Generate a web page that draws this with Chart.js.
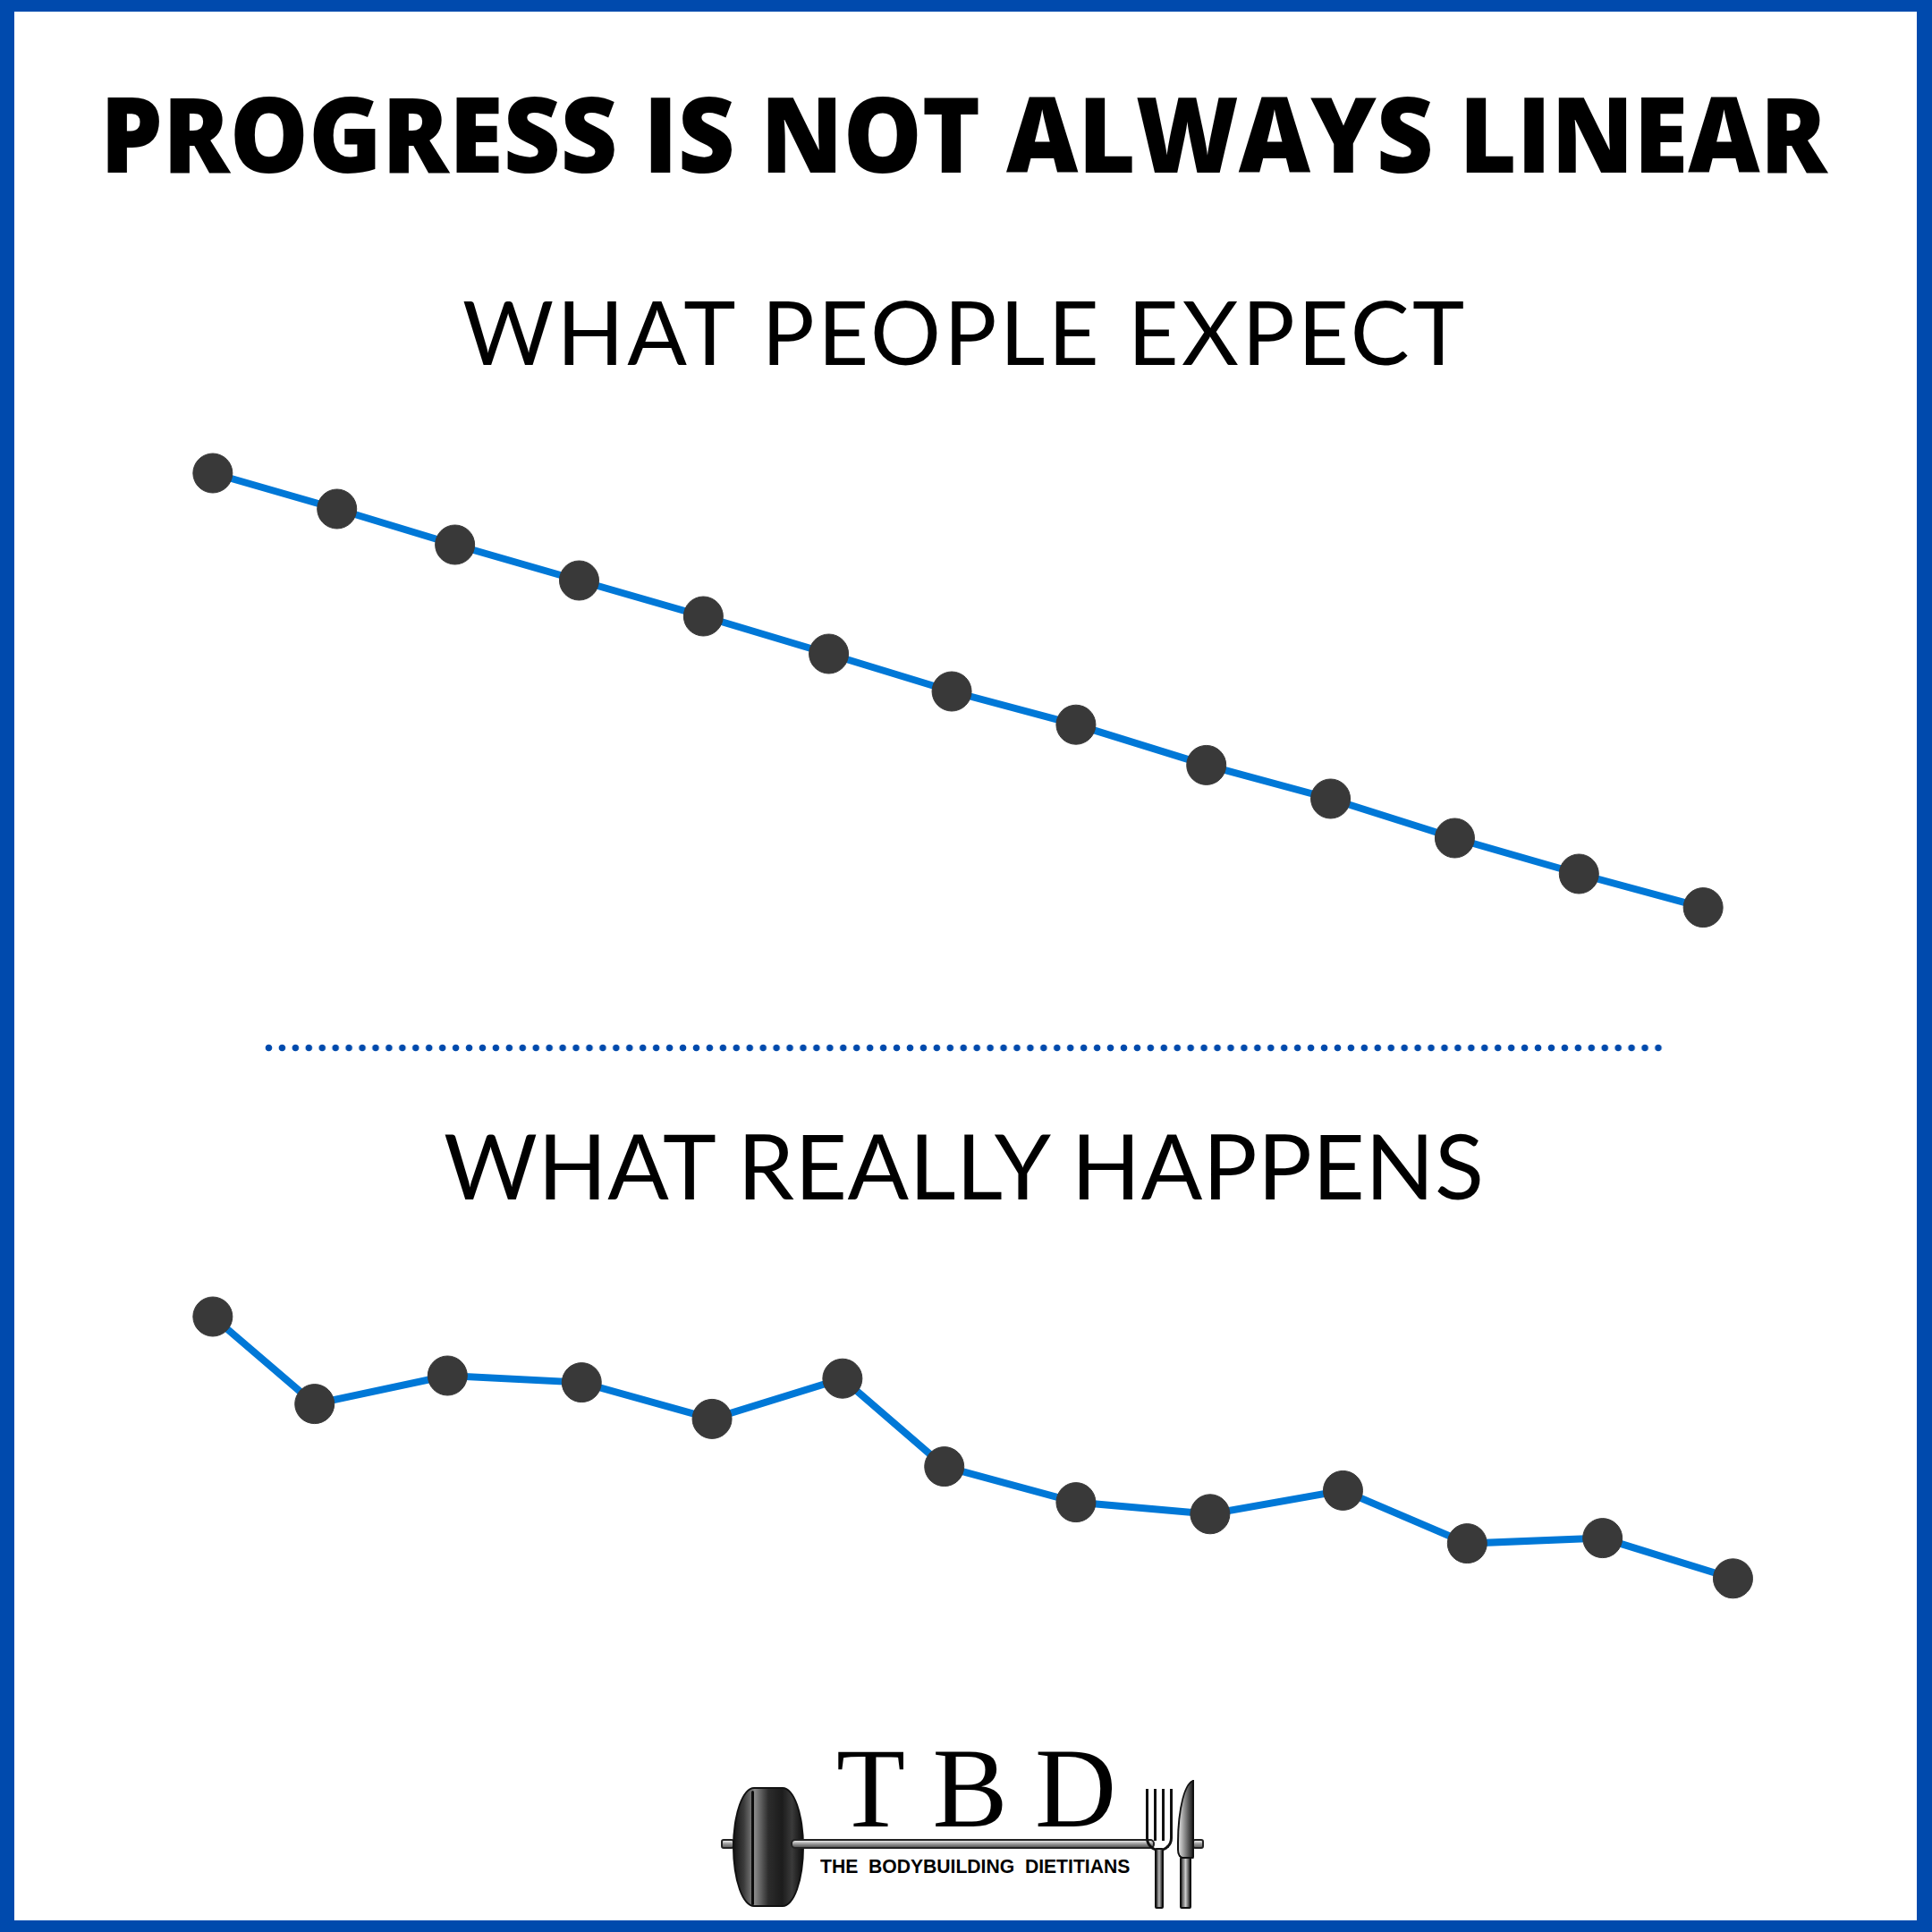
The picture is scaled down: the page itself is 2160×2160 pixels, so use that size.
<!DOCTYPE html>
<html>
<head>
<meta charset="utf-8">
<script src="https://cdn.jsdelivr.net/npm/chart.js@4.4.0/dist/chart.umd.min.js"></script>
<style>
  html, body { margin: 0; padding: 0; background: #fff; }
  #page { position: relative; width: 2160px; height: 2160px; overflow: hidden; background: #fff; }
  #frame { position: absolute; left: 0; top: 0; width: 2160px; height: 2160px; box-sizing: border-box;
           border-style: solid; border-color: #004aad; border-width: 13px 17px 13px 16px; }
  .txt { position: absolute; margin: 0; white-space: pre; color: #000; }
  canvas { position: absolute; }
  #dots { position: absolute; left: 293px; top: 1167px; width: 1570px; height: 9px;
          background: radial-gradient(circle at 50% 50%, #004aad 3.4px, rgba(0,74,173,0) 4.2px) repeat-x;
          background-size: 14.95px 9px; }
  .part { position: absolute; box-sizing: border-box; }
</style>
</head>
<body>
<div id="page">
  <div id="frame"></div>

  <div class="txt" id="title"></div>
  <div class="txt" id="sub1"></div>
  <div class="txt" id="sub2"></div>

  <canvas id="expected" width="1944" height="640" style="left:99px; top:449px;"></canvas>
  <div id="dots"></div>
  <canvas id="really" width="1944" height="480" style="left:99px; top:1392px;"></canvas>

  <!-- logo -->
  <div class="part" style="left:806px; top:2056px; width:15px; height:11px; border:2px solid #222; border-radius:3px; background:linear-gradient(#eee,#999,#666);"></div>
  <div class="part" style="left:819px; top:1998px; width:80px; height:134px; border:2px solid #111; border-radius:24px / 67px; background:linear-gradient(90deg,#161616 0%,#3c3c3c 14%,#8a8a8a 30%,#2c2c2c 50%,#1c1c1c 70%,#3a3a3a 85%,#111 100%);"></div>
  <div class="part" style="left:840px; top:2002px; width:3px; height:128px; background:#0c0c0c; border-radius:2px;"></div>
  <div class="part" style="left:884px; top:2056px; width:407px; height:11px; border:2px solid #222; border-radius:5px; background:linear-gradient(#e8e8e8,#9a9a9a 50%,#5a5a5a);"></div>
  <div class="part" style="left:1333px; top:2056px; width:13px; height:11px; border:2px solid #222; border-radius:3px; background:linear-gradient(#eee,#999,#666);"></div>
  <!-- fork -->
  <div class="part" style="left:1281px; top:2000px; width:30px; height:70px; border:3px solid #111; border-top:none; border-radius:0 0 15px 15px;"></div>
  <div class="part" style="left:1290px; top:2000px; width:3px; height:58px; background:#111;"></div>
  <div class="part" style="left:1299px; top:2000px; width:3px; height:58px; background:#111;"></div>
  <div class="part" style="left:1291px; top:2066px; width:10px; height:68px; border:2px solid #111; border-radius:2px; background:linear-gradient(90deg,#333,#bbb,#333);"></div>
  <!-- knife -->
  <div class="part" style="left:1316px; top:1990px; width:19px; height:88px; border:2px solid #111; border-radius:19px 0 2px 6px / 70px 0 2px 10px; background:linear-gradient(90deg,#ddd,#777 55%,#222);"></div>
  <div class="part" style="left:1319px; top:2076px; width:13px; height:58px; border:2px solid #111; border-radius:2px; background:linear-gradient(90deg,#444,#ccc,#333);"></div>

  <div class="txt" id="tbd"></div>
  <div class="txt" id="tbdSub"></div>
</div>

<script>
// data (x = week, y = body weight)
const weeksExpected  = [0, 1, 1.95, 2.95, 3.95, 4.96, 5.95, 6.95, 8.0, 9.0, 10.0, 11.0, 12.0];
const weightExpected = [85.0, 84.0, 83.0, 82.0, 81.0, 79.95, 78.9, 77.97, 76.84, 75.9, 74.8, 73.8, 72.86];

const weeksReal  = [0, 0.82, 1.89, 2.97, 4.02, 5.07, 5.89, 6.95, 8.03, 9.1, 10.1, 11.19, 12.24];
const weightReal = [85.0, 82.56, 83.35, 83.16, 82.14, 83.27, 80.81, 79.81, 79.48, 80.14, 78.66, 78.81, 77.68];

const lineBlue = '#0078d7';
const dotGrey = '#393939';

function toPoints(xs, ys) {
  let pts = [];
  for (let i = 0; i < xs.length; i++) {
    pts.push({x: xs[i], y: ys[i]});
  }
  return pts;
}

function makeChart(id, xs, ys, yMin, yMax) {
  return new Chart(document.getElementById(id), {
    type: 'line',
    data: {
      datasets: [{
        data: toPoints(xs, ys),
        borderColor: lineBlue,
        borderWidth: 8,
        tension: 0,
        pointRadius: 22,
        pointBorderWidth: 1,
        pointBackgroundColor: dotGrey,
        pointBorderColor: dotGrey,
        fill: false,
        clip: false
      }]
    },
    options: {
      responsive: false,
      animation: false,
      layout: { padding: 0, autoPadding: false },
      plugins: { legend: { display: false }, tooltip: { enabled: false }, title: { display: false } },
      scales: {
        x: { type: 'linear', min: -1, max: 13, display: false },
        y: { type: 'linear', min: yMin, max: yMax, display: false }
      }
    }
  });
}

makeChart('expected', weeksExpected, weightExpected, 71, 87);
makeChart('really', weeksReal, weightReal, 75, 87);

// text placement: size from cap height, then fit the width
const ctx = document.createElement('canvas').getContext('2d');

function placeText(id, o) {
  const el = document.getElementById(id);
  el.textContent = o.text;
  ctx.font = o.weight + ' 100px ' + o.family;
  const ratio = ctx.measureText('H').actualBoundingBoxAscent / 100;
  const size = (o.baseline - o.capTop) / ratio;
  ctx.font = o.weight + ' ' + size + 'px ' + o.family;
  const m = ctx.measureText(o.text);
  const A = m.fontBoundingBoxAscent, D = m.fontBoundingBoxDescent;
  el.style.fontFamily = o.family;
  el.style.fontWeight = o.weight;
  el.style.fontSize = size + 'px';
  el.style.lineHeight = size + 'px';
  el.style.top = (o.baseline - ((size - (A + D)) / 2 + A)) + 'px';
  const ink = m.actualBoundingBoxLeft + m.actualBoundingBoxRight;
  if (o.mode === 'scale') {
    const s = (o.right - o.left) / ink;
    el.style.transformOrigin = '0 0';
    el.style.transform = 'scaleX(' + s + ')';
    el.style.left = (o.left + m.actualBoundingBoxLeft * s) + 'px';
  } else {
    const ls = (o.right - o.left - ink) / (o.text.length - 1);
    el.style.letterSpacing = ls + 'px';
    el.style.left = (o.left + m.actualBoundingBoxLeft) + 'px';
  }
}

placeText('title', {text: 'PROGRESS IS NOT ALWAYS LINEAR', family: '"Open Sans"', weight: 800,
  capTop: 110, baseline: 194, left: 121, right: 2045, mode: 'scale'});
placeText('sub1', {text: 'WHAT PEOPLE EXPECT', family: 'Lato', weight: 400,
  capTop: 336, baseline: 408, left: 518, right: 1639, mode: 'spacing'});
placeText('sub2', {text: 'WHAT REALLY HAPPENS', family: 'Lato', weight: 400,
  capTop: 1268, baseline: 1342, left: 497, right: 1662, mode: 'spacing'});
placeText('tbd', {text: 'TBD', family: '"Liberation Serif"', weight: 400,
  capTop: 1961, baseline: 2043, left: 937, right: 1244, mode: 'spacing'});
placeText('tbdSub', {text: 'THE  BODYBUILDING  DIETITIANS', family: '"Liberation Sans"', weight: 700,
  capTop: 2080, baseline: 2095, left: 917, right: 1263, mode: 'scale'});
</script>
</body>
</html>
